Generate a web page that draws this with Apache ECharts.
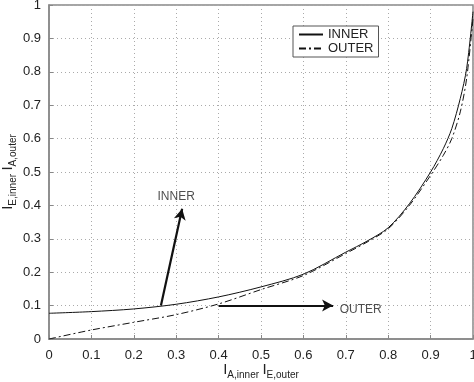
<!DOCTYPE html>
<html><head><meta charset="utf-8">
<script src="https://cdn.jsdelivr.net/npm/echarts@6/dist/echarts.min.js"></script>
<style>html,body{margin:0;padding:0;background:#fff}#c{width:474px;height:382px}</style>
</head><body><div id="c"></div>
<script>
var innerX = [0, 0.1, 0.2, 0.3, 0.4, 0.5, 0.6, 0.7, 0.75, 0.8, 0.85, 0.9, 0.93, 0.95, 0.97, 0.985, 1.0];
var innerY = [0.077, 0.082, 0.09, 0.104, 0.126, 0.156, 0.194, 0.26, 0.293, 0.333, 0.405, 0.5, 0.57, 0.63, 0.72, 0.81, 0.98];
var outerX = [0, 0.1, 0.2, 0.3, 0.4, 0.5, 0.6, 0.7, 0.75, 0.8, 0.85, 0.9, 0.93, 0.95, 0.97, 0.985, 1.0];
var outerY = [0, 0.027, 0.05, 0.073, 0.105, 0.148, 0.19, 0.256, 0.29, 0.33, 0.4, 0.49, 0.55, 0.6, 0.68, 0.78, 0.96];
var arrowInner = [[0.264, 0.1], [0.314, 0.39]];
var arrowOuter = [[0.4, 0.1], [0.67, 0.1]];
var labelInner = [0.30, 0.425, 'INNER'];
var labelOuter = [0.735, 0.088, 'OUTER'];
var ticks = [0, 0.1, 0.2, 0.3, 0.4, 0.5, 0.6, 0.7, 0.8, 0.9, 1];

function zip(xs, ys){ return xs.map(function(x,i){return [x, ys[i]];}); }
var ch = echarts.init(document.getElementById('c'));
var font = 'Liberation Sans, Arial, sans-serif';
function fmt(v){ var s = Math.round(v*10)/10; return s === 0 ? '0' : (s === 1 ? '1' : String(s)); }
var axisCommon = {
  type: 'value', min: 0, max: 1, interval: 0.1,
  axisLine: {show: true, lineStyle: {color: '#888', width: 1.5}},
  axisTick: {show: true, inside: true, length: 4, lineStyle: {color: '#888'}},
  splitLine: {show: true, lineStyle: {color: '#aaa', type: [1, 3], width: 1}},
  axisLabel: {color: '#222', fontSize: 13, fontFamily: font, formatter: fmt}
};
var rich = {
  i: {fontSize: 15, fontFamily: font, color: '#222', verticalAlign: 'top', lineHeight: 18},
  s: {fontSize: 10, fontFamily: font, color: '#222', verticalAlign: 'bottom', lineHeight: 18, padding: [8, 0, 0, 0]}
};
ch.setOption({
  animation: false,
  grid: {left: 49, right: 1, top: 5, bottom: 43, containLabel: false, outerBoundsMode: 'none',
         show: true, borderColor: '#888', borderWidth: 1.5},
  legend: {
    data: ['INNER', 'OUTER'], orient: 'vertical', left: 293, top: 26,
    backgroundColor: '#fff', borderColor: '#555', borderWidth: 1, padding: [2, 5, 2, 5],
    itemWidth: 24, itemHeight: 8, itemGap: 1,
    itemStyle: {color: 'rgba(0,0,0,0)', borderColor: 'rgba(0,0,0,0)', borderWidth: 0},
    textStyle: {fontSize: 13, fontFamily: font, color: '#222'}
  },
  xAxis: Object.assign({}, axisCommon, {
    name: '{i|I}{s|A,inner} {i|I}{s|E,outer}', nameLocation: 'middle', nameGap: 23, nameMoveOverlap: false,
    nameTextStyle: {rich: rich},
    axisLabel: Object.assign({}, axisCommon.axisLabel, {margin: 10})
  }),
  yAxis: Object.assign({}, axisCommon, {
    name: '{i|I}{s|E,inner} {i|I}{s|A,outer}', nameLocation: 'middle', nameGap: 31, nameRotate: 90,
    nameMoveOverlap: false,
    nameTextStyle: {rich: rich},
    axisLabel: Object.assign({}, axisCommon.axisLabel, {margin: 8})
  }),
  series: [
    {name: 'INNER', type: 'line', data: zip(innerX, innerY), smooth: 0.3, symbol: 'none',
     lineStyle: {color: '#111', width: 1}, itemStyle: {color: '#111'}},
    {name: 'OUTER', type: 'line', data: zip(outerX, outerY), smooth: 0.3, symbol: 'none',
     lineStyle: {color: '#111', width: 1, type: [7, 3, 2, 3]}, itemStyle: {color: '#111'}},
    {name: 'arrows', type: 'line', data: [], silent: true,
     markLine: {silent: true, symbol: ['none', 'arrow'], symbolSize: [9, 11], label: {show: false},
       lineStyle: {color: '#111', width: 2.2, type: 'solid'},
       data: [
         [{coord: arrowInner[0]}, {coord: arrowInner[1]}],
         [{coord: arrowOuter[0]}, {coord: arrowOuter[1]}]
       ]}},
    {name: 'labels', type: 'scatter', symbolSize: 0, silent: true,
     data: [labelInner, labelOuter],
     label: {show: true, position: 'inside', formatter: function(p){return p.data[2];},
       fontSize: 12, fontFamily: font, color: '#222'}}
  ]
});
</script></body></html>
